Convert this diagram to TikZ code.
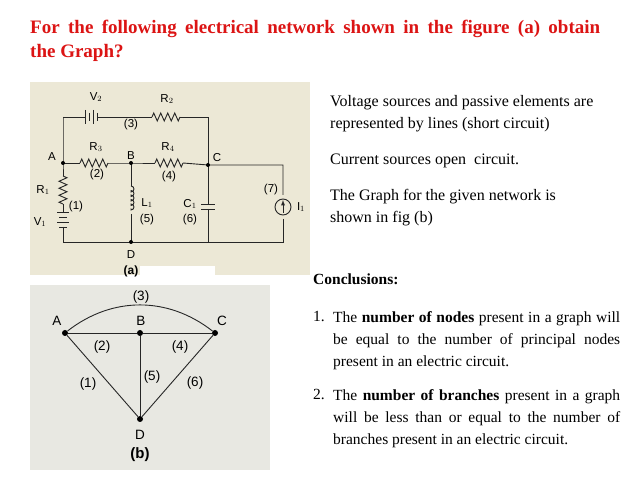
\documentclass[tikz,border=0pt]{standalone}
\usepackage{fontspec}
\setmainfont{Liberation Serif}
\newfontfamily\arialf{Liberation Sans}
\usetikzlibrary{decorations.pathmorphing}
\definecolor{titlered}{RGB}{220,20,20}
\definecolor{photo}{RGB}{236,232,214}
\definecolor{photob}{RGB}{232,232,226}
\begin{document}
\begin{tikzpicture}[x=1pt,y=-1pt,
  wire/.style={line width=0.9pt,black!85},
  res/.style={wire,decorate,decoration={zigzag,segment length=7pt,amplitude=4pt}},
  lbl/.style={font=\arialf\fontsize{11.5}{12}\selectfont,inner sep=1pt},
  gl/.style={font=\arialf\fontsize{13.5}{14}\selectfont,inner sep=1pt},
  dot/.style={circle,fill=black,inner sep=0pt,minimum size=6pt},
  txt/.style={anchor=north west,inner sep=0pt,font=\fontsize{15.5}{22}\selectfont,align=left}]
\useasboundingbox (0,0) rectangle (638,478);
\fill[white] (0,0) rectangle (638,478);
\fill[photo] (30,82) rectangle (310,275);
\fill[photob] (30,285) rectangle (270,470);
\fill[white] (140,266) rectangle (215,285);
% title
\node[anchor=north west,inner sep=0pt,text width=570pt,align=justify,text=titlered,
  font=\bfseries\fontsize{19}{24}\selectfont] (title) at (30,20)
  {For the following electrical network shown in the figure (a) obtain\linebreak the Graph?};
% circuit
\coordinate (A) at (63,163); \coordinate (B) at (131,163); \coordinate (C) at (208,165);
\coordinate (D) at (131,242);
\coordinate (TL) at (63,117); \coordinate (TR) at (208,117);
\coordinate (BL) at (63,242); \coordinate (BR) at (283,242); \coordinate (CR) at (283,165);
\coordinate (CB) at (208,242);
\draw[wire] (TL) -- (85,117); \draw[wire] (97,117) -- (152,117);
\draw[res] (152,117) -- (180,117); \draw[wire] (180,117) -- (TR) -- (C);
\draw[wire] (85,110) -- (85,124); \draw[wire] (89,113) -- (89,121);
\draw[wire] (93,110) -- (93,124); \draw[wire] (97,113) -- (97,121);
\draw[wire] (A) -- (80,163); \draw[res] (80,163) -- (108,163); \draw[wire] (108,163) -- (B) -- (155,163);
\draw[res] (155,163) -- (183,163); \draw[wire] (183,163) -- (C) -- (CR) -- (283,195);
\draw[wire] (283,219) -- (BR) -- (BL);
\draw[wire] (TL) -- (A) -- (63,176); \draw[res] (63,176) -- (63,204); \draw[wire] (63,204) -- (63,212);
\draw[wire] (57,212) -- (69,212); \draw[wire] (59,217) -- (67,217); \draw[wire] (57,222) -- (69,222); \draw[wire] (59,227) -- (67,227);
\draw[wire] (63,227) -- (BL);
\draw[wire] (B) -- (131,186);
\draw[wire] (131,186) \foreach \i in {0,...,4} {arc[start angle=90,end angle=-90,radius=3pt] -- ++(0,-1.5)};
\draw[wire] (131,214) -- (D);
\draw[wire] (C) -- (208,204); \draw[wire] (201,204) -- (215,204); \draw[wire] (201,209) -- (215,209); \draw[wire] (208,209) -- (CB);
\draw[wire] (283,207) circle (8pt);
\draw[wire,-latex] (283,213) -- (283,200);
\node[dot,minimum size=4pt] at (A) {}; \node[dot,minimum size=4pt] at (B) {}; \node[dot,minimum size=4pt] at (C) {}; \node[dot,minimum size=4pt] at (D) {};
\node[lbl] at (96,97) {V$_2$}; \node[lbl] at (167,99) {R$_2$}; \node[lbl] at (131,125) {(3)};
\node[lbl] at (52,157) {A}; \node[lbl] at (131,156) {B}; \node[lbl] at (217,158) {C};
\node[lbl] at (96,147) {R$_3$}; \node[lbl] at (97,175) {(2)};
\node[lbl] at (168,147) {R$_4$}; \node[lbl] at (169,177) {(4)};
\node[lbl] at (43,190) {R$_1$}; \node[lbl] at (76,207) {(1)}; \node[lbl] at (40,222) {V$_1$};
\node[lbl] at (147,203) {L$_1$}; \node[lbl] at (147,220) {(5)};
\node[lbl] at (190,204) {C$_1$}; \node[lbl] at (190,220) {(6)};
\node[lbl] at (271,190) {(7)}; \node[lbl] at (301,207) {I$_1$};
\node[lbl] at (131,255) {D};
\node[lbl,font=\arialf\bfseries\fontsize{12}{13}\selectfont] at (131,271) {(a)};
% graph
\node[dot] (gA) at (65,333) {}; \node[dot] (gB) at (140,333) {};
\node[dot] (gC) at (215,333) {}; \node[dot] (gD) at (140,419) {};
\draw[wire] (gA) -- (gB) -- (gC); \draw[wire] (gB) -- (gD);
\draw[wire] (gA) -- (gD) -- (gC);
\draw[wire] (gA) to[bend left=38] (gC);
\node[gl] at (57,321) {A}; \node[gl] at (141,321) {B}; \node[gl] at (222,321) {C};
\node[gl] at (141,297) {(3)}; \node[gl] at (102,347) {(2)}; \node[gl] at (180,347) {(4)};
\node[gl] at (88,384) {(1)}; \node[gl] at (152,377) {(5)}; \node[gl] at (195,383) {(6)};
\node[gl] at (140,435) {D};
\node[gl,font=\arialf\bfseries\fontsize{15}{16}\selectfont] at (140,455) {(b)};
% texts
\node[txt,font=\fontsize{16}{22}\selectfont] (t1) at (330,95) {Voltage sources and passive elements are\\represented by lines (short circuit)\\[14pt]Current sources open\ \ circuit.\\[14pt]The Graph for the given network is\\shown in fig (b)};
\node[txt,font=\bfseries\fontsize{15.5}{22}\selectfont] (t2) at (313,274) {Conclusions:};
\node[txt] (n1) at (313,311) {1.};
\node[txt,text width=287pt,align=justify] (p1) at (333,311) {The \textbf{number of nodes} present in a graph will be equal to the number of principal nodes present in an electric circuit.};
\node[txt] (n2) at (313,389) {2.};
\node[txt,text width=287pt,align=justify] (p2) at (333,389) {The \textbf{number of branches} present in a graph will be less than or equal to the number of branches present in an electric circuit.};
\end{tikzpicture}
\end{document}
